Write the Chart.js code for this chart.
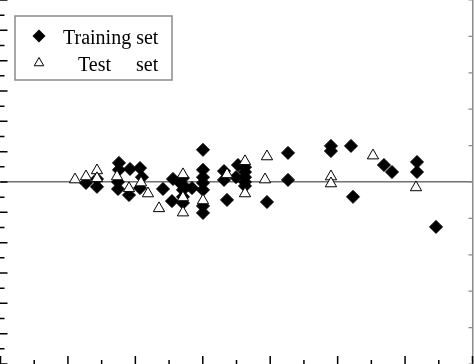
<!DOCTYPE html>
<html>
<head>
<meta charset="utf-8">
<script src="https://cdn.jsdelivr.net/npm/chart.js@4.4.1/dist/chart.umd.min.js"></script>
<style>
html,body{margin:0;padding:0;width:474px;height:364px;overflow:hidden;background:#ffffff;}
#wrap{position:absolute;left:-10px;top:-10px;width:494px;height:384px;}
</style>
</head>
<body>
<div id="wrap"><canvas id="c"></canvas></div>
<script>
// ---- data ----
const trainingX = [12.68,14.31,14.31,17.57,17.57,17.43,17.43,19.21,19.06,20.69,20.98,20.69,24.10,25.58,25.43,
  27.06,27.06,27.06,27.06,27.06,26.5,28.40,30.03,30.03,30.03,30.03,30.03,30.03,30.03,
  33.15,33.15,33.59,34.93,35.22,36.26,36.26,36.26,36.26,36.26,39.52,42.64,42.64,49.01,49.01,51.98,52.28,
  56.87,58.06,61.77,61.77,64.59];
const trainingY = [-0.03,-0.16,0.10,0.63,0.40,0.00,-0.23,0.43,-0.43,0.46,0.16,-0.20,-0.23,0.10,-0.63,
  0.13,-0.10,-0.26,-0.49,-0.69,0.0,-0.20,1.06,0.40,0.16,-0.03,-0.26,-0.79,-1.02,
  0.36,0.07,-0.59,0.16,0.56,0.49,0.33,0.16,0.00,-0.13,-0.66,0.96,0.07,1.19,1.02,1.19,-0.49,
  0.56,0.33,0.66,0.33,-1.48];
const testX = [11.05,12.68,14.31,14.31,17.28,19.06,20.84,21.87,23.51,27.06,27.06,27.06,30.03,33.59,36.26,36.26,
  39.52,39.23,49.01,49.01,55.24,61.62];
const testY = [0.08,0.18,0.38,0.12,0.18,-0.21,-0.02,-0.38,-0.87,0.25,-0.51,-1.01,-0.61,0.25,0.68,-0.38,
  0.84,0.08,0.18,-0.05,0.87,-0.18];
const seriesNames = ['Training set', 'Test     set'];
const xRange = [0, 70], xStep = 5, xMajor = 10;
const yRange = [-6, 6], yStep = 0.5, yMajor = 1;
const y2Range = [-5, 5], y2Step = 1;

const toPts = (xs, ys) => xs.map((x, i) => ({x: x, y: ys[i]}));

const innerTicks = {
  id: 'innerTicks',
  afterDatasetsDraw(chart) {
    const {ctx, chartArea: a, scales} = chart;
    ctx.save();
    ctx.strokeStyle = '#000';
    ctx.lineWidth = 1.5;
    ctx.beginPath();
    scales.x.ticks.forEach(t => {
      const px = scales.x.getPixelForValue(t.value);
      const len = Math.abs(t.value % xMajor) < 1e-6 ? 8 : 4;
      ctx.moveTo(px, a.bottom);
      ctx.lineTo(px, a.bottom - len);
    });
    scales.y.ticks.forEach(t => {
      const py = scales.y.getPixelForValue(t.value);
      const isMaj = Math.abs(t.value / yMajor - Math.round(t.value / yMajor)) < 1e-6;
      ctx.moveTo(a.left - 0.5, py);
      ctx.lineTo(a.left + (isMaj ? 7 : 4), py);
    });
    ctx.stroke();
    ctx.strokeStyle = '#8c8c8c';
    ctx.lineWidth = 1.2;
    ctx.beginPath();
    scales.y2.ticks.forEach(t => {
      const py = scales.y2.getPixelForValue(t.value);
      ctx.moveTo(a.right, py);
      ctx.lineTo(a.right - 4, py);
    });
    ctx.stroke();
    ctx.restore();
  }
};

const boxLegend = {
  id: 'boxLegend',
  afterDraw(chart) {
    const {ctx, chartArea: a} = chart;
    const L = a.left - 0.5, T = a.top;
    ctx.save();
    ctx.strokeStyle = '#8a8a8a';
    ctx.lineWidth = 1.5;
    ctx.fillStyle = '#fff';
    ctx.fillRect(L + 15, T + 16, 157, 64);
    ctx.strokeRect(L + 15, T + 16, 157, 64);
    // diamond marker
    ctx.fillStyle = '#000';
    ctx.beginPath();
    const dx = L + 39, dy = T + 36, r = 6.5;
    ctx.moveTo(dx - r, dy); ctx.lineTo(dx, dy - r); ctx.lineTo(dx + r, dy); ctx.lineTo(dx, dy + r);
    ctx.closePath(); ctx.fill();
    // triangle marker
    const tx = L + 39, ty = T + 63, tr = 5.5;
    ctx.beginPath();
    ctx.moveTo(tx, ty - tr);
    ctx.lineTo(tx + tr * 0.866, ty + tr * 0.5);
    ctx.lineTo(tx - tr * 0.866, ty + tr * 0.5);
    ctx.closePath();
    ctx.fillStyle = '#fff'; ctx.fill();
    ctx.strokeStyle = '#000'; ctx.lineWidth = 1; ctx.stroke();
    ctx.fillStyle = '#000';
    ctx.font = '20px "Liberation Serif", "Times New Roman", serif';
    ctx.textBaseline = 'alphabetic';
    ctx.textAlign = 'left';
    ctx.fillText(seriesNames[0], L + 63, T + 44);
    ctx.fillText(seriesNames[1], L + 78, T + 71);
    ctx.restore();
  }
};

new Chart(document.getElementById('c'), {
  type: 'scatter',
  data: {
    datasets: [
      {
        label: seriesNames[1],
        data: toPts(testX, testY),
        pointStyle: 'triangle',
        pointRadius: 6.5,
        backgroundColor: '#ffffff',
        borderColor: '#000000',
        borderWidth: 1
      },
      {
        label: seriesNames[0],
        data: toPts(trainingX, trainingY),
        pointStyle: 'rectRot',
        pointRadius: 6.5,
        backgroundColor: '#000000',
        borderColor: '#000000',
        borderWidth: 1
      }
    ]
  },
  options: {
    responsive: true,
    maintainAspectRatio: false,
    devicePixelRatio: 1,
    animation: false,
    events: [],
    layout: {padding: {left: 10.5, right: 11.5, top: 10, bottom: 10}},
    plugins: {legend: {display: false}, tooltip: {enabled: false}},
    scales: {
      x: {
        type: 'linear', min: xRange[0], max: xRange[1],
        ticks: {display: false, stepSize: xStep},
        grid: {display: false, drawTicks: false},
        border: {display: false}
      },
      y: {
        type: 'linear', position: 'left', min: yRange[0], max: yRange[1],
        ticks: {display: false, stepSize: yStep},
        grid: {
          drawTicks: false,
          color: c => (c.tick && c.tick.value === 0) ? '#707070' : 'rgba(0,0,0,0)',
          lineWidth: c => (c.tick && c.tick.value === 0) ? 1.5 : 0
        },
        border: {display: false}
      },
      y2: {
        type: 'linear', position: 'right', min: y2Range[0], max: y2Range[1],
        ticks: {display: false, stepSize: y2Step},
        grid: {drawOnChartArea: false, drawTicks: false},
        border: {display: true, color: '#8c8c8c', width: 1.5}
      }
    }
  },
  plugins: [innerTicks, boxLegend]
});
</script>
</body>
</html>
